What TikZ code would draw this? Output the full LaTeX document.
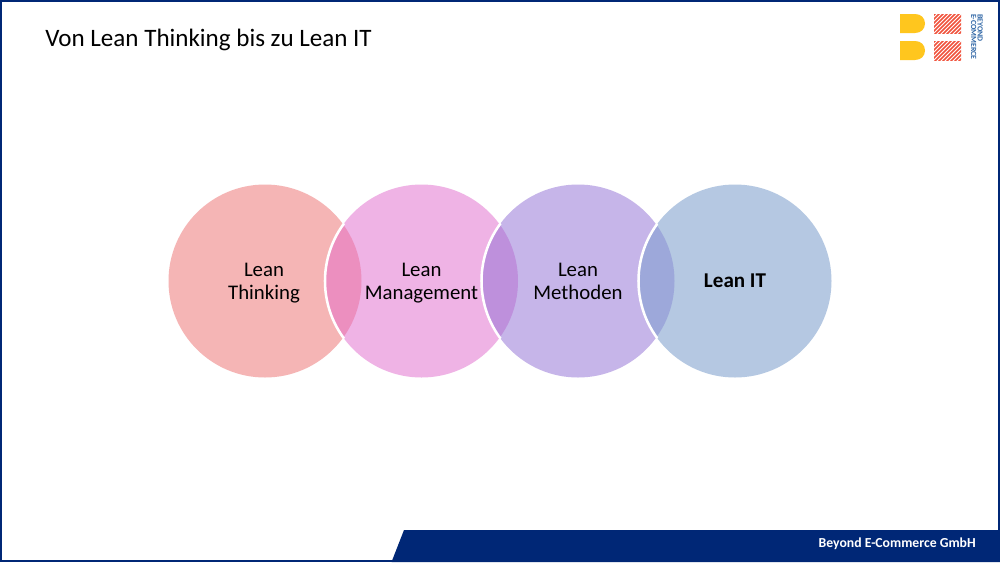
\documentclass[tikz,border=0pt]{standalone}
\usepackage{fontspec}
\setmainfont{Carlito}
\definecolor{navy}{HTML}{002776}
\definecolor{cA}{HTML}{F5B5B5}
\definecolor{cB}{HTML}{EFB3E5}
\definecolor{cC}{HTML}{C6B5E9}
\definecolor{cD}{HTML}{B5C8E2}
\definecolor{lA}{HTML}{EC8FBF}
\definecolor{lB}{HTML}{BE90DC}
\definecolor{lC}{HTML}{9DA8DA}
\definecolor{logoY}{HTML}{FFC61E}
\definecolor{logoR}{HTML}{F0523C}
\definecolor{logoB}{HTML}{2F66A6}
\tikzset{
  disc/.style={circle,inner sep=0pt,minimum size=145pt,align=center,font=\fontsize{15.6pt}{17.2pt}\selectfont,text=black},
  hatchline/.style={logoR,line width=1.2pt},
  bee/.style={fill=logoY,draw=none},
  logotext/.style={anchor=north west,rotate=-90,inner sep=0pt,text=logoB,font=\fontsize{5.9pt}{6pt}\selectfont\bfseries},
}
\newcommand{\bshape}[1]{\path[bee] (900,#1) -- (915,#1) .. controls (921,#1) and (925,#1+4) .. (925,#1+9.5) .. controls (925,#1+15) and (921,#1+19) .. (915,#1+19) -- (900,#1+19) -- cycle;}
\newcommand{\hatchbox}[1]{\begin{scope}
  \clip (934,#1) rectangle (961,#1+19);
  \foreach \k in {-24,-20,...,28} {\draw[hatchline] (934+\k,#1+21) -- (934+\k+23,#1-2);}
\end{scope}}
\begin{document}
\begin{tikzpicture}[x=0.75pt,y=-0.75pt]
\useasboundingbox (0,0) rectangle (1000,562);
\fill[white] (0,0) rectangle (1000,562);
% circles
\fill[cA] (265,281) circle[radius=96.5];
\fill[cB] (421.5,281) circle[radius=96.5];
\fill[cC] (578,281) circle[radius=96.5];
\fill[cD] (735,281) circle[radius=96.5];
% overlaps
\begin{scope}\clip (265,281) circle[radius=96.5]; \fill[lA] (421.5,281) circle[radius=96.5]; \end{scope}
\begin{scope}\clip (421.5,281) circle[radius=96.5]; \fill[lB] (578,281) circle[radius=96.5]; \end{scope}
\begin{scope}\clip (578,281) circle[radius=96.5]; \fill[lC] (735,281) circle[radius=96.5]; \end{scope}
\begin{scope}\clip (265,281) circle[radius=98]; \draw[white,line width=1.9pt] (421.5,281) circle[radius=96.5]; \end{scope}
\begin{scope}\clip (421.5,281) circle[radius=98]; \draw[white,line width=1.9pt] (578,281) circle[radius=96.5]; \end{scope}
\begin{scope}\clip (578,281) circle[radius=98]; \draw[white,line width=1.9pt] (735,281) circle[radius=96.5]; \end{scope}
\node[disc] (thinking) at (264,283) {Lean\\Thinking};
\node[disc] (management) at (421.5,283) {Lean\\Management};
\node[disc] (methoden) at (578,281) {Lean\\Methoden};
\node[disc,font=\fontsize{15.8pt}{17.2pt}\selectfont\bfseries] (leanit) at (735,280.5) {Lean IT};
% footer
\fill[navy] (404,530) -- (1000,530) -- (1000,562) -- (391.5,562) -- cycle;
\node[anchor=east,text=white,inner sep=0pt,font=\fontsize{10.3pt}{12pt}\selectfont\bfseries] (footer) at (976,544) {Beyond E-Commerce GmbH};
% title
\node[anchor=west,text=black,inner sep=0pt,font=\fontsize{18.8pt}{22pt}\selectfont] (title) at (45,40) {Von Lean Thinking bis zu Lean IT};
% logo
\bshape{14}
\bshape{41}
\hatchbox{14}
\hatchbox{41}
\node[logotext] (beyond) at (983,14) {BEYOND};
\node[logotext] (ecommerce) at (976.5,14) {E-COMMERCE};
% frame
\draw[navy,line width=1.5pt] (1,1) rectangle (999,561);
\end{tikzpicture}
\end{document}
